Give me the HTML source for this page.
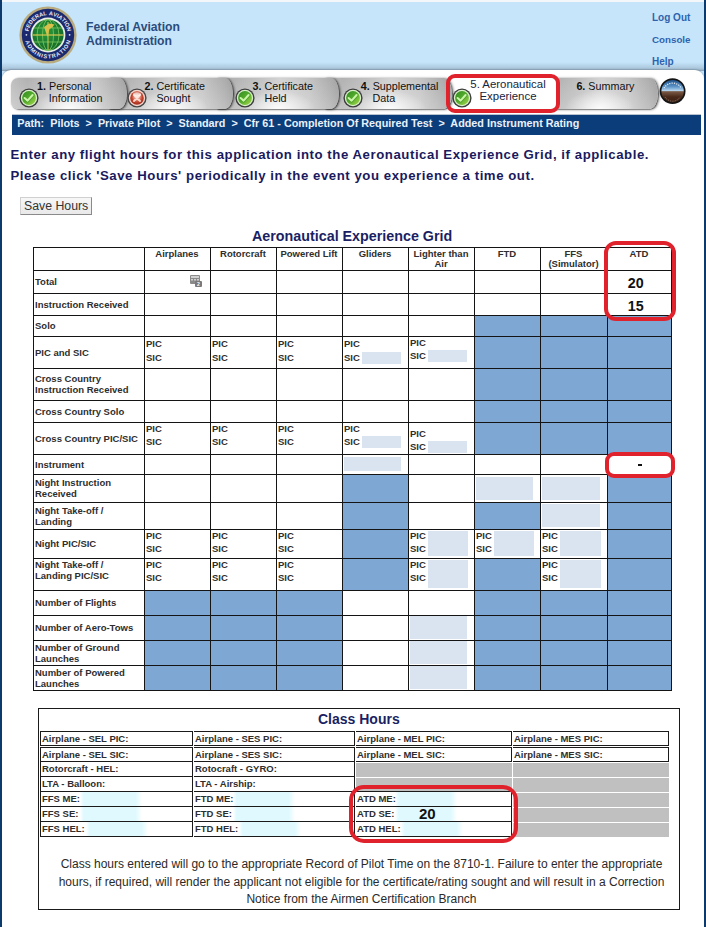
<!DOCTYPE html><html><head><meta charset="utf-8"><style>
html,body{margin:0;padding:0;}
body{width:706px;height:927px;overflow:hidden;position:relative;background:#fff;font-family:"Liberation Sans", sans-serif;}
.ab{position:absolute;}
.t{position:absolute;white-space:nowrap;}
</style></head><body>
<div class="ab" style="left:0;top:0;width:706px;height:2px;background:#f4f7fa"></div>
<div class="ab" style="left:2px;top:2px;width:702px;height:90px;background:#c6e5fb"></div>
<div class="ab" style="left:2px;top:62px;width:702px;height:9px;background:linear-gradient(rgba(150,175,195,0), rgba(150,175,195,.55) 70%, rgba(130,150,165,.85))"></div>
<div class="ab" style="left:2px;top:70px;width:702px;height:857px;background:#fff;border-radius:9px 9px 0 0;box-shadow:0 -1px 1.5px rgba(90,110,130,.35)"></div>
<div class="ab" style="left:0;top:0;width:2px;height:927px;background:#0d3a6c;z-index:50"></div>
<div class="ab" style="left:704px;top:0;width:2px;height:927px;background:#0d3a6c;z-index:50"></div>
<div class="t" style="left:86px;top:20.2px;font-size:12.2px;font-weight:bold;color:#2c4c7c;line-height:14px">Federal Aviation<br>Administration</div>
<div class="t" style="left:652px;top:12.2px;font-size:10px;font-weight:bold;color:#2f62ad;line-height:12px">Log Out</div>
<div class="t" style="left:652px;top:34.2px;font-size:9.75px;font-weight:bold;color:#2f62ad;line-height:12px">Console</div>
<div class="t" style="left:652px;top:56.4px;font-size:10px;font-weight:bold;color:#2f62ad;line-height:12px">Help</div>
<svg class="ab" style="left:19px;top:6px" width="58" height="58" viewBox="0 0 58 58">
<defs><radialGradient id="glb" cx="45%" cy="40%" r="60%"><stop offset="0" stop-color="#2a9a3a"/><stop offset="1" stop-color="#146a2a"/></radialGradient></defs>
<circle cx="29" cy="29" r="28.6" fill="#b9ab7e"/>
<circle cx="29" cy="29" r="26.2" fill="#1b2a6e"/>
<circle cx="29" cy="29" r="17.4" fill="#e9eee4"/>
<circle cx="29" cy="29" r="15.6" fill="url(#glb)"/>
<g stroke="#7cc860" stroke-width="0.9" fill="none" opacity=".9">
<ellipse cx="29" cy="29" rx="5.5" ry="15.4"/><ellipse cx="29" cy="29" rx="11" ry="15.4"/>
<line x1="15" y1="22" x2="43" y2="22"/><line x1="15" y1="36" x2="43" y2="36"/>
</g>
<line x1="13.6" y1="29" x2="44.4" y2="29" stroke="#d8c850" stroke-width="1.2"/>
<line x1="29" y1="16" x2="29" y2="44" stroke="#d8c850" stroke-width="1"/>
<path d="M28.5 31 L25 21 L30 17.5 L35.5 18.5 L33 21.5 L30.5 23 Z" fill="#d9c04a"/>
<g font-size="5.6" font-weight="bold" fill="#e8eaf4" font-family="Liberation Sans"><text transform="translate(9.87 23.89) rotate(284.9)" text-anchor="middle">F</text><text transform="translate(11.11 20.51) rotate(295.4)" text-anchor="middle">E</text><text transform="translate(13.14 17.15) rotate(306.8)" text-anchor="middle">D</text><text transform="translate(15.78 14.26) rotate(318.1)" text-anchor="middle">E</text><text transform="translate(18.95 11.94) rotate(329.5)" text-anchor="middle">R</text><text transform="translate(22.65 10.25) rotate(341.3)" text-anchor="middle">A</text><text transform="translate(26.31 9.38) rotate(352.2)" text-anchor="middle">L</text><text transform="translate(31.65 9.38) rotate(367.7)" text-anchor="middle">A</text><text transform="translate(35.47 10.29) rotate(379.1)" text-anchor="middle">V</text><text transform="translate(37.93 11.33) rotate(386.8)" text-anchor="middle">I</text><text transform="translate(40.36 12.79) rotate(395.0)" text-anchor="middle">A</text><text transform="translate(43.23 15.23) rotate(405.9)" text-anchor="middle">T</text><text transform="translate(44.86 17.15) rotate(413.2)" text-anchor="middle">I</text><text transform="translate(46.46 19.67) rotate(421.9)" text-anchor="middle">O</text><text transform="translate(48.05 23.59) rotate(434.1)" text-anchor="middle">N</text><text transform="translate(7.00 36.98) rotate(70.0)" text-anchor="middle">A</text><text transform="translate(9.21 41.49) rotate(57.7)" text-anchor="middle">D</text><text transform="translate(12.54 45.64) rotate(44.7)" text-anchor="middle">M</text><text transform="translate(15.69 48.24) rotate(34.7)" text-anchor="middle">I</text><text transform="translate(18.96 50.13) rotate(25.4)" text-anchor="middle">N</text><text transform="translate(22.48 51.47) rotate(16.2)" text-anchor="middle">I</text><text transform="translate(26.03 52.21) rotate(7.3)" text-anchor="middle">S</text><text transform="translate(30.58 52.35) rotate(-3.9)" text-anchor="middle">T</text><text transform="translate(35.22 51.56) rotate(-15.4)" text-anchor="middle">R</text><text transform="translate(39.88 49.72) rotate(-27.7)" text-anchor="middle">A</text><text transform="translate(43.80 47.12) rotate(-39.2)" text-anchor="middle">T</text><text transform="translate(46.32 44.74) rotate(-47.7)" text-anchor="middle">I</text><text transform="translate(48.71 41.62) rotate(-57.4)" text-anchor="middle">O</text><text transform="translate(51.00 36.98) rotate(-70.0)" text-anchor="middle">N</text></g>
<circle cx="7.4" cy="28.8" r="0.9" fill="#dfe4f0"/><circle cx="50.6" cy="28.8" r="0.9" fill="#dfe4f0"/>
</svg>
<div class="ab" style="left:11px;top:78px;width:115.5px;height:30.5px;background:radial-gradient(ellipse 30% 60% at 50% 100%, rgba(255,255,255,.9), rgba(255,255,255,0)),linear-gradient(to bottom, rgba(0,0,0,.05), rgba(255,255,255,.12)),linear-gradient(to right, #c9c9c9 0%, #bcbcbc 14%, #cccccc 35%, #dedede 52%, #cfcfcf 75%, #b6b6b6 93%, #a9a9a9 100%);border-radius:7px 8px 8px 7px / 7px 15px 15px 7px;box-shadow:1.5px 0.5px 2.5px rgba(0,0,0,.55), 0.5px 0.5px 0.8px rgba(0,0,0,.5);z-index:20"></div>
<div class="ab" style="left:109px;top:78px;width:123.7px;height:30.5px;background:radial-gradient(ellipse 30% 60% at 50% 100%, rgba(255,255,255,.9), rgba(255,255,255,0)),linear-gradient(to bottom, rgba(0,0,0,.05), rgba(255,255,255,.12)),linear-gradient(to right, #c9c9c9 0%, #bcbcbc 14%, #cccccc 35%, #dedede 52%, #cfcfcf 75%, #b6b6b6 93%, #a9a9a9 100%);border-radius:0 8px 8px 0 / 0 15px 15px 0;box-shadow:1.5px 0.5px 2.5px rgba(0,0,0,.55), 0.5px 0.5px 0.8px rgba(0,0,0,.5);z-index:19"></div>
<div class="ab" style="left:217px;top:78px;width:121.9px;height:30.5px;background:radial-gradient(ellipse 30% 60% at 50% 100%, rgba(255,255,255,.9), rgba(255,255,255,0)),linear-gradient(to bottom, rgba(0,0,0,.05), rgba(255,255,255,.12)),linear-gradient(to right, #c9c9c9 0%, #bcbcbc 14%, #cccccc 35%, #dedede 52%, #cfcfcf 75%, #b6b6b6 93%, #a9a9a9 100%);border-radius:0 8px 8px 0 / 0 15px 15px 0;box-shadow:1.5px 0.5px 2.5px rgba(0,0,0,.55), 0.5px 0.5px 0.8px rgba(0,0,0,.5);z-index:18"></div>
<div class="ab" style="left:325px;top:78px;width:127.0px;height:30.5px;background:radial-gradient(ellipse 30% 60% at 50% 100%, rgba(255,255,255,.9), rgba(255,255,255,0)),linear-gradient(to bottom, rgba(0,0,0,.05), rgba(255,255,255,.12)),linear-gradient(to right, #c9c9c9 0%, #bcbcbc 14%, #cccccc 35%, #dedede 52%, #cfcfcf 75%, #b6b6b6 93%, #a9a9a9 100%);border-radius:0 8px 8px 0 / 0 15px 15px 0;box-shadow:1.5px 0.5px 2.5px rgba(0,0,0,.55), 0.5px 0.5px 0.8px rgba(0,0,0,.5);z-index:17"></div>
<div class="ab" style="left:541px;top:78px;width:116.5px;height:30.5px;background:radial-gradient(ellipse 30% 60% at 50% 100%, rgba(255,255,255,.9), rgba(255,255,255,0)),linear-gradient(to bottom, rgba(0,0,0,.05), rgba(255,255,255,.12)),linear-gradient(to right, #c9c9c9 0%, #bcbcbc 14%, #cccccc 35%, #dedede 52%, #cfcfcf 75%, #b6b6b6 93%, #a9a9a9 100%);border-radius:0 8px 8px 0 / 0 15px 15px 0;box-shadow:1.5px 0.5px 2.5px rgba(0,0,0,.55), 0.5px 0.5px 0.8px rgba(0,0,0,.5);z-index:15"></div>
<div class="ab" style="left:446px;top:76px;width:112px;height:34px;background:#fff;z-index:16"></div>
<svg class="ab" style="left:18.3px;top:87.1px;z-index:30" width="22" height="22" viewBox="0 0 22 22"><defs><linearGradient id="gg0" x1="0" y1="0" x2="1" y2="1"><stop offset="0" stop-color="#2f8a1e"/><stop offset=".5" stop-color="#56ae2e"/><stop offset="1" stop-color="#a6d64a"/></linearGradient></defs><circle cx="11" cy="11" r="9.6" fill="#3c3c3c"/><circle cx="11" cy="11" r="8.2" fill="#d8f0c8"/><circle cx="11" cy="11" r="6.9" fill="url(#gg0)"/><path d="M6.6 11.4 L9.6 14 L14.6 8.4" stroke="#3d8a25" stroke-width="3" fill="none" stroke-linecap="round" stroke-linejoin="round" opacity=".6"/><path d="M6.6 11 L9.6 13.6 L14.6 8" stroke="#c9f5a6" stroke-width="2.1" fill="none" stroke-linecap="round" stroke-linejoin="round"/></svg>
<svg class="ab" style="left:126.1px;top:87.1px;z-index:30" width="22" height="22" viewBox="0 0 22 22"><defs><radialGradient id="rg" cx="50%" cy="40%" r="55%"><stop offset="0" stop-color="#fff0e0"/><stop offset=".35" stop-color="#e8a090"/><stop offset=".7" stop-color="#c4452e"/><stop offset="1" stop-color="#a83020"/></radialGradient></defs><circle cx="11" cy="11" r="9.6" fill="#444"/><circle cx="11" cy="11" r="8.2" fill="#f4d4cc"/><circle cx="11" cy="11" r="6.8" fill="url(#rg)"/><path d="M8 8 L14 14 M14 8 L8 14" stroke="#ffe8e0" stroke-width="2" stroke-linecap="round" opacity=".85"/><ellipse cx="11" cy="7.3" rx="4" ry="2" fill="#fff" opacity=".55"/></svg>
<svg class="ab" style="left:233.6px;top:87.1px;z-index:30" width="22" height="22" viewBox="0 0 22 22"><defs><linearGradient id="gg2" x1="0" y1="0" x2="1" y2="1"><stop offset="0" stop-color="#2f8a1e"/><stop offset=".5" stop-color="#56ae2e"/><stop offset="1" stop-color="#a6d64a"/></linearGradient></defs><circle cx="11" cy="11" r="9.6" fill="#3c3c3c"/><circle cx="11" cy="11" r="8.2" fill="#d8f0c8"/><circle cx="11" cy="11" r="6.9" fill="url(#gg2)"/><path d="M6.6 11.4 L9.6 14 L14.6 8.4" stroke="#3d8a25" stroke-width="3" fill="none" stroke-linecap="round" stroke-linejoin="round" opacity=".6"/><path d="M6.6 11 L9.6 13.6 L14.6 8" stroke="#c9f5a6" stroke-width="2.1" fill="none" stroke-linecap="round" stroke-linejoin="round"/></svg>
<svg class="ab" style="left:342.2px;top:87.1px;z-index:30" width="22" height="22" viewBox="0 0 22 22"><defs><linearGradient id="gg3" x1="0" y1="0" x2="1" y2="1"><stop offset="0" stop-color="#2f8a1e"/><stop offset=".5" stop-color="#56ae2e"/><stop offset="1" stop-color="#a6d64a"/></linearGradient></defs><circle cx="11" cy="11" r="9.6" fill="#3c3c3c"/><circle cx="11" cy="11" r="8.2" fill="#d8f0c8"/><circle cx="11" cy="11" r="6.9" fill="url(#gg3)"/><path d="M6.6 11.4 L9.6 14 L14.6 8.4" stroke="#3d8a25" stroke-width="3" fill="none" stroke-linecap="round" stroke-linejoin="round" opacity=".6"/><path d="M6.6 11 L9.6 13.6 L14.6 8" stroke="#c9f5a6" stroke-width="2.1" fill="none" stroke-linecap="round" stroke-linejoin="round"/></svg>
<svg class="ab" style="left:450.7px;top:87.1px;z-index:30" width="22" height="22" viewBox="0 0 22 22"><defs><linearGradient id="gg4" x1="0" y1="0" x2="1" y2="1"><stop offset="0" stop-color="#2f8a1e"/><stop offset=".5" stop-color="#56ae2e"/><stop offset="1" stop-color="#a6d64a"/></linearGradient></defs><circle cx="11" cy="11" r="9.6" fill="#3c3c3c"/><circle cx="11" cy="11" r="8.2" fill="#d8f0c8"/><circle cx="11" cy="11" r="6.9" fill="url(#gg4)"/><path d="M6.6 11.4 L9.6 14 L14.6 8.4" stroke="#3d8a25" stroke-width="3" fill="none" stroke-linecap="round" stroke-linejoin="round" opacity=".6"/><path d="M6.6 11 L9.6 13.6 L14.6 8" stroke="#c9f5a6" stroke-width="2.1" fill="none" stroke-linecap="round" stroke-linejoin="round"/></svg>
<div class="t" style="left:37.0px;top:79.55px;font-size:10.75px;line-height:12.3px;color:#111;z-index:31"><b>1.</b> Personal<br><span style="padding-left:11.8px">Information</span></div>
<div class="t" style="left:144.6px;top:79.55px;font-size:10.75px;line-height:12.3px;color:#111;z-index:31"><b>2.</b> Certificate<br><span style="padding-left:11.8px">Sought</span></div>
<div class="t" style="left:252.6px;top:79.55px;font-size:10.75px;line-height:12.3px;color:#111;z-index:31"><b>3.</b> Certificate<br><span style="padding-left:11.8px">Held</span></div>
<div class="t" style="left:360.7px;top:79.55px;font-size:10.75px;line-height:12.3px;color:#111;z-index:31"><b>4.</b> Supplemental<br><span style="padding-left:11.8px">Data</span></div>
<div class="t" style="left:448px;top:79.4px;width:120px;text-align:center;font-size:11.4px;line-height:11.7px;color:#15253d;z-index:31">5. Aeronautical<br>Experience</div>
<div class="t" style="left:576.4px;top:79.55px;font-size:10.75px;line-height:12.3px;color:#111;z-index:31"><b>6.</b> Summary</div>
<svg class="ab" style="left:659px;top:77px;z-index:31" width="28" height="28" viewBox="0 0 28 28">
<defs><linearGradient id="sky" x1="0" y1="0" x2="0" y2="1"><stop offset="0" stop-color="#1d4f8a"/><stop offset=".3" stop-color="#5d95c8"/><stop offset=".48" stop-color="#b8d8f0"/><stop offset=".52" stop-color="#7a5a46"/><stop offset=".75" stop-color="#4a2a1a"/><stop offset="1" stop-color="#3a2014"/></linearGradient></defs>
<circle cx="13.6" cy="14.2" r="12.9" fill="#141414"/><circle cx="13.6" cy="14.2" r="11.2" fill="url(#sky)"/>
<path d="M5 11 A10 10 0 0 1 22.2 11" stroke="#e8eef4" stroke-width="1.3" fill="none" stroke-dasharray="1.2 1.1"/>
<path d="M6 20 A9 9 0 0 0 21.2 20" stroke="#c8b8a8" stroke-width="1" fill="none" stroke-dasharray="1 1.2" opacity=".6"/>
</svg>

<div class="ab" style="left:446px;top:74px;width:106px;height:31px;border:4px solid #e0222c;border-radius:9px;z-index:40"></div>
<div class="ab" style="left:12px;top:114px;width:689px;height:1px;background:#b9c3cf"></div>
<div class="ab" style="left:12px;top:115px;width:689px;height:20px;background:#0a3d7a"></div>
<div class="t" style="left:17.2px;top:117.2px;font-size:10.8px;font-weight:bold;line-height:12px;color:#e9f1fb">Path:&nbsp; Pilots &nbsp;&gt;&nbsp; Private Pilot &nbsp;&gt;&nbsp; Standard &nbsp;&gt;&nbsp; Cfr 61 - Completion Of Required Test &nbsp;&gt;&nbsp; Added Instrument Rating</div>
<div class="t" style="left:10.5px;top:144px;font-size:13.2px;letter-spacing:0.56px;font-weight:bold;line-height:21px;color:#1a1a5e">Enter any flight hours for this application into the Aeronautical Experience Grid, if applicable.<br>Please click &#39;Save Hours&#39; periodically in the event you experience a time out.</div>
<div class="ab" style="left:20px;top:197px;width:70px;height:16px;border:1px solid;border-color:#d0d0d0 #8a8a8a #8a8a8a #d0d0d0;background:linear-gradient(#f7f7f7,#e9e9e9)"></div>
<div class="t" style="left:24px;top:199px;font-size:12.3px;line-height:14px;color:#333">Save Hours</div>
<div class="t" style="left:252px;top:228px;font-size:14.3px;font-weight:bold;line-height:16px;color:#1b1f63">Aeronautical Experience Grid</div>
<div class="ab" style="left:474px;top:315px;width:66px;height:21px;background:#7ea7d3"></div>
<div class="ab" style="left:540px;top:315px;width:67px;height:21px;background:#7ea7d3"></div>
<div class="ab" style="left:607px;top:315px;width:64px;height:21px;background:#7ea7d3"></div>
<div class="ab" style="left:362px;top:352px;width:39px;height:12px;background:#dae4f0"></div>
<div class="ab" style="left:428px;top:350px;width:39px;height:12px;background:#dae4f0"></div>
<div class="ab" style="left:474px;top:336px;width:66px;height:32px;background:#7ea7d3"></div>
<div class="ab" style="left:540px;top:336px;width:67px;height:32px;background:#7ea7d3"></div>
<div class="ab" style="left:607px;top:336px;width:64px;height:32px;background:#7ea7d3"></div>
<div class="ab" style="left:474px;top:368px;width:66px;height:32px;background:#7ea7d3"></div>
<div class="ab" style="left:540px;top:368px;width:67px;height:32px;background:#7ea7d3"></div>
<div class="ab" style="left:607px;top:368px;width:64px;height:32px;background:#7ea7d3"></div>
<div class="ab" style="left:474px;top:400px;width:66px;height:22px;background:#7ea7d3"></div>
<div class="ab" style="left:540px;top:400px;width:67px;height:22px;background:#7ea7d3"></div>
<div class="ab" style="left:607px;top:400px;width:64px;height:22px;background:#7ea7d3"></div>
<div class="ab" style="left:362px;top:436px;width:39px;height:12px;background:#dae4f0"></div>
<div class="ab" style="left:428px;top:441px;width:39px;height:12px;background:#dae4f0"></div>
<div class="ab" style="left:474px;top:422px;width:66px;height:32px;background:#7ea7d3"></div>
<div class="ab" style="left:540px;top:422px;width:67px;height:32px;background:#7ea7d3"></div>
<div class="ab" style="left:607px;top:422px;width:64px;height:32px;background:#7ea7d3"></div>
<div class="ab" style="left:344px;top:457px;width:57px;height:14px;background:#dae4f0"></div>
<div class="ab" style="left:342px;top:474px;width:66px;height:28px;background:#7ea7d3"></div>
<div class="ab" style="left:476px;top:477px;width:57px;height:23px;background:#dae4f0"></div>
<div class="ab" style="left:542px;top:477px;width:58px;height:23px;background:#dae4f0"></div>
<div class="ab" style="left:607px;top:474px;width:64px;height:28px;background:#7ea7d3"></div>
<div class="ab" style="left:342px;top:502px;width:66px;height:27px;background:#7ea7d3"></div>
<div class="ab" style="left:474px;top:502px;width:66px;height:27px;background:#7ea7d3"></div>
<div class="ab" style="left:542px;top:504px;width:58px;height:23px;background:#dae4f0"></div>
<div class="ab" style="left:607px;top:502px;width:64px;height:27px;background:#7ea7d3"></div>
<div class="ab" style="left:342px;top:529px;width:66px;height:29px;background:#7ea7d3"></div>
<div class="ab" style="left:428px;top:531px;width:40px;height:25px;background:#dae4f0"></div>
<div class="ab" style="left:494px;top:531px;width:40px;height:25px;background:#dae4f0"></div>
<div class="ab" style="left:560px;top:531px;width:41px;height:25px;background:#dae4f0"></div>
<div class="ab" style="left:607px;top:529px;width:64px;height:29px;background:#7ea7d3"></div>
<div class="ab" style="left:342px;top:558px;width:66px;height:32px;background:#7ea7d3"></div>
<div class="ab" style="left:428px;top:560px;width:40px;height:28px;background:#dae4f0"></div>
<div class="ab" style="left:474px;top:558px;width:66px;height:32px;background:#7ea7d3"></div>
<div class="ab" style="left:560px;top:560px;width:41px;height:28px;background:#dae4f0"></div>
<div class="ab" style="left:607px;top:558px;width:64px;height:32px;background:#7ea7d3"></div>
<div class="ab" style="left:144px;top:590px;width:66px;height:25px;background:#7ea7d3"></div>
<div class="ab" style="left:210px;top:590px;width:66px;height:25px;background:#7ea7d3"></div>
<div class="ab" style="left:276px;top:590px;width:66px;height:25px;background:#7ea7d3"></div>
<div class="ab" style="left:474px;top:590px;width:66px;height:25px;background:#7ea7d3"></div>
<div class="ab" style="left:540px;top:590px;width:67px;height:25px;background:#7ea7d3"></div>
<div class="ab" style="left:607px;top:590px;width:64px;height:25px;background:#7ea7d3"></div>
<div class="ab" style="left:144px;top:615px;width:66px;height:25px;background:#7ea7d3"></div>
<div class="ab" style="left:210px;top:615px;width:66px;height:25px;background:#7ea7d3"></div>
<div class="ab" style="left:276px;top:615px;width:66px;height:25px;background:#7ea7d3"></div>
<div class="ab" style="left:410px;top:616px;width:57px;height:23px;background:#dae4f0"></div>
<div class="ab" style="left:474px;top:615px;width:66px;height:25px;background:#7ea7d3"></div>
<div class="ab" style="left:540px;top:615px;width:67px;height:25px;background:#7ea7d3"></div>
<div class="ab" style="left:607px;top:615px;width:64px;height:25px;background:#7ea7d3"></div>
<div class="ab" style="left:144px;top:640px;width:66px;height:25px;background:#7ea7d3"></div>
<div class="ab" style="left:210px;top:640px;width:66px;height:25px;background:#7ea7d3"></div>
<div class="ab" style="left:276px;top:640px;width:66px;height:25px;background:#7ea7d3"></div>
<div class="ab" style="left:410px;top:641px;width:57px;height:23px;background:#dae4f0"></div>
<div class="ab" style="left:474px;top:640px;width:66px;height:25px;background:#7ea7d3"></div>
<div class="ab" style="left:540px;top:640px;width:67px;height:25px;background:#7ea7d3"></div>
<div class="ab" style="left:607px;top:640px;width:64px;height:25px;background:#7ea7d3"></div>
<div class="ab" style="left:144px;top:665px;width:66px;height:25px;background:#7ea7d3"></div>
<div class="ab" style="left:210px;top:665px;width:66px;height:25px;background:#7ea7d3"></div>
<div class="ab" style="left:276px;top:665px;width:66px;height:25px;background:#7ea7d3"></div>
<div class="ab" style="left:410px;top:666px;width:57px;height:23px;background:#dae4f0"></div>
<div class="ab" style="left:474px;top:665px;width:66px;height:25px;background:#7ea7d3"></div>
<div class="ab" style="left:540px;top:665px;width:67px;height:25px;background:#7ea7d3"></div>
<div class="ab" style="left:607px;top:665px;width:64px;height:25px;background:#7ea7d3"></div>
<div class="ab" style="left:33px;top:247px;width:1px;height:444px;background:#141414"></div>
<div class="ab" style="left:144px;top:247px;width:1px;height:444px;background:#141414"></div>
<div class="ab" style="left:210px;top:247px;width:1px;height:444px;background:#141414"></div>
<div class="ab" style="left:276px;top:247px;width:1px;height:444px;background:#141414"></div>
<div class="ab" style="left:342px;top:247px;width:1px;height:444px;background:#141414"></div>
<div class="ab" style="left:408px;top:247px;width:1px;height:444px;background:#141414"></div>
<div class="ab" style="left:474px;top:247px;width:1px;height:444px;background:#141414"></div>
<div class="ab" style="left:540px;top:247px;width:1px;height:444px;background:#141414"></div>
<div class="ab" style="left:607px;top:247px;width:1px;height:444px;background:#141414"></div>
<div class="ab" style="left:671px;top:247px;width:1px;height:444px;background:#141414"></div>
<div class="ab" style="left:33px;top:247px;width:639px;height:1px;background:#141414"></div>
<div class="ab" style="left:33px;top:270px;width:639px;height:1px;background:#141414"></div>
<div class="ab" style="left:33px;top:293px;width:639px;height:1px;background:#141414"></div>
<div class="ab" style="left:33px;top:315px;width:639px;height:1px;background:#141414"></div>
<div class="ab" style="left:33px;top:336px;width:639px;height:1px;background:#141414"></div>
<div class="ab" style="left:33px;top:368px;width:639px;height:1px;background:#141414"></div>
<div class="ab" style="left:33px;top:400px;width:639px;height:1px;background:#141414"></div>
<div class="ab" style="left:33px;top:422px;width:639px;height:1px;background:#141414"></div>
<div class="ab" style="left:33px;top:454px;width:639px;height:1px;background:#141414"></div>
<div class="ab" style="left:33px;top:474px;width:639px;height:1px;background:#141414"></div>
<div class="ab" style="left:33px;top:502px;width:639px;height:1px;background:#141414"></div>
<div class="ab" style="left:33px;top:529px;width:639px;height:1px;background:#141414"></div>
<div class="ab" style="left:33px;top:558px;width:639px;height:1px;background:#141414"></div>
<div class="ab" style="left:33px;top:590px;width:639px;height:1px;background:#141414"></div>
<div class="ab" style="left:33px;top:615px;width:639px;height:1px;background:#141414"></div>
<div class="ab" style="left:33px;top:640px;width:639px;height:1px;background:#141414"></div>
<div class="ab" style="left:33px;top:665px;width:639px;height:1px;background:#141414"></div>
<div class="ab" style="left:33px;top:690px;width:639px;height:1px;background:#141414"></div>
<div class="t" style="left:144px;top:248.5px;width:66px;text-align:center;font-size:9.5px;font-weight:bold;line-height:11px;color:#2e2e2e;line-height:10.6px">Airplanes</div>
<div class="t" style="left:210px;top:248.5px;width:66px;text-align:center;font-size:9.5px;font-weight:bold;line-height:11px;color:#2e2e2e;line-height:10.6px">Rotorcraft</div>
<div class="t" style="left:276px;top:248.5px;width:66px;text-align:center;font-size:9.5px;font-weight:bold;line-height:11px;color:#2e2e2e;line-height:10.6px">Powered Lift</div>
<div class="t" style="left:342px;top:248.5px;width:66px;text-align:center;font-size:9.5px;font-weight:bold;line-height:11px;color:#2e2e2e;line-height:10.6px">Gliders</div>
<div class="t" style="left:408px;top:248.5px;width:66px;text-align:center;font-size:9.5px;font-weight:bold;line-height:11px;color:#2e2e2e;line-height:10.6px">Lighter than<br>Air</div>
<div class="t" style="left:474px;top:248.5px;width:66px;text-align:center;font-size:9.5px;font-weight:bold;line-height:11px;color:#2e2e2e;line-height:10.6px">FTD</div>
<div class="t" style="left:540px;top:248.5px;width:67px;text-align:center;font-size:9.5px;font-weight:bold;line-height:11px;color:#2e2e2e;line-height:10.6px">FFS<br>(Simulator)</div>
<div class="t" style="left:607px;top:248.5px;width:64px;text-align:center;font-size:9.5px;font-weight:bold;line-height:11px;color:#2e2e2e;line-height:10.6px">ATD</div>
<div class="ab" style="left:35px;top:270px;width:108px;height:23px;display:flex;align-items:center;font-size:9.5px;font-weight:bold;line-height:11px;color:#2e2e2e"><div>Total</div></div>
<div class="ab" style="left:35px;top:293px;width:108px;height:22px;display:flex;align-items:center;font-size:9.5px;font-weight:bold;line-height:11px;color:#2e2e2e"><div>Instruction Received</div></div>
<div class="ab" style="left:35px;top:315px;width:108px;height:21px;display:flex;align-items:center;font-size:9.5px;font-weight:bold;line-height:11px;color:#2e2e2e"><div>Solo</div></div>
<div class="ab" style="left:35px;top:336px;width:108px;height:32px;display:flex;align-items:center;font-size:9.5px;font-weight:bold;line-height:11px;color:#2e2e2e"><div>PIC and SIC</div></div>
<div class="ab" style="left:35px;top:368px;width:108px;height:32px;display:flex;align-items:center;font-size:9.5px;font-weight:bold;line-height:11px;color:#2e2e2e"><div>Cross Country<br>Instruction Received</div></div>
<div class="ab" style="left:35px;top:400px;width:108px;height:22px;display:flex;align-items:center;font-size:9.5px;font-weight:bold;line-height:11px;color:#2e2e2e"><div>Cross Country Solo</div></div>
<div class="ab" style="left:35px;top:422px;width:108px;height:32px;display:flex;align-items:center;font-size:9.5px;font-weight:bold;line-height:11px;color:#2e2e2e"><div>Cross Country PIC/SIC</div></div>
<div class="ab" style="left:35px;top:454px;width:108px;height:20px;display:flex;align-items:center;font-size:9.5px;font-weight:bold;line-height:11px;color:#2e2e2e"><div>Instrument</div></div>
<div class="ab" style="left:35px;top:474px;width:108px;height:28px;display:flex;align-items:center;font-size:9.5px;font-weight:bold;line-height:11px;color:#2e2e2e"><div>Night Instruction<br>Received</div></div>
<div class="ab" style="left:35px;top:502px;width:108px;height:27px;display:flex;align-items:center;font-size:9.5px;font-weight:bold;line-height:11px;color:#2e2e2e"><div>Night Take-off /<br>Landing</div></div>
<div class="ab" style="left:35px;top:529px;width:108px;height:29px;display:flex;align-items:center;font-size:9.5px;font-weight:bold;line-height:11px;color:#2e2e2e"><div>Night PIC/SIC</div></div>
<div class="ab" style="left:35px;top:554px;width:108px;height:32px;display:flex;align-items:center;font-size:9.5px;font-weight:bold;line-height:11px;color:#2e2e2e"><div>Night Take-off /<br>Landing PIC/SIC</div></div>
<div class="ab" style="left:35px;top:590px;width:108px;height:25px;display:flex;align-items:center;font-size:9.5px;font-weight:bold;line-height:11px;color:#2e2e2e"><div>Number of Flights</div></div>
<div class="ab" style="left:35px;top:615px;width:108px;height:25px;display:flex;align-items:center;font-size:9.5px;font-weight:bold;line-height:11px;color:#2e2e2e"><div>Number of Aero-Tows</div></div>
<div class="ab" style="left:35px;top:640px;width:108px;height:25px;display:flex;align-items:center;font-size:9.5px;font-weight:bold;line-height:11px;color:#2e2e2e"><div>Number of Ground<br>Launches</div></div>
<div class="ab" style="left:35px;top:665px;width:108px;height:25px;display:flex;align-items:center;font-size:9.5px;font-weight:bold;line-height:11px;color:#2e2e2e"><div>Number of Powered<br>Launches</div></div>
<svg class="ab" style="left:190px;top:275px" width="12" height="12" viewBox="0 0 12 12"><rect x="0" y="0" width="10" height="9" rx="1" fill="#8a8a8a"/><rect x="1" y="1" width="8" height="2" fill="#d0d0d0"/><rect x="1" y="4" width="2" height="1.5" fill="#d0d0d0"/><rect x="4" y="4" width="2" height="1.5" fill="#d0d0d0"/><rect x="7" y="4" width="2" height="1.5" fill="#d0d0d0"/><rect x="5" y="6" width="7" height="6" rx="1" fill="#7a7a7a"/><text x="8.5" y="11" font-size="5" font-weight="bold" fill="#fff" text-anchor="middle" font-family="Liberation Sans">2</text></svg>
<div class="t" style="left:603.8px;top:273.6px;width:64px;text-align:center;font-size:14.3px;font-weight:bold;line-height:18px;color:#111">20</div>
<div class="t" style="left:603.8px;top:296.6px;width:64px;text-align:center;font-size:14.3px;font-weight:bold;line-height:18px;color:#111">15</div>
<div class="t" style="left:146px;top:337.40000000000003px;font-size:9.5px;font-weight:bold;line-height:11px;color:#2e2e2e;line-height:13.2px">PIC<br>SIC</div>
<div class="t" style="left:212px;top:337.40000000000003px;font-size:9.5px;font-weight:bold;line-height:11px;color:#2e2e2e;line-height:13.2px">PIC<br>SIC</div>
<div class="t" style="left:278px;top:337.40000000000003px;font-size:9.5px;font-weight:bold;line-height:11px;color:#2e2e2e;line-height:13.2px">PIC<br>SIC</div>
<div class="t" style="left:344px;top:337.40000000000003px;font-size:9.5px;font-weight:bold;line-height:11px;color:#2e2e2e;line-height:13.2px">PIC<br>SIC</div>
<div class="t" style="left:410px;top:335.6px;font-size:9.5px;font-weight:bold;line-height:11px;color:#2e2e2e;line-height:13.2px">PIC<br>SIC</div>
<div class="t" style="left:146px;top:421.8px;font-size:9.5px;font-weight:bold;line-height:11px;color:#2e2e2e;line-height:13.2px">PIC<br>SIC</div>
<div class="t" style="left:212px;top:421.8px;font-size:9.5px;font-weight:bold;line-height:11px;color:#2e2e2e;line-height:13.2px">PIC<br>SIC</div>
<div class="t" style="left:278px;top:421.8px;font-size:9.5px;font-weight:bold;line-height:11px;color:#2e2e2e;line-height:13.2px">PIC<br>SIC</div>
<div class="t" style="left:344px;top:421.8px;font-size:9.5px;font-weight:bold;line-height:11px;color:#2e2e2e;line-height:13.2px">PIC<br>SIC</div>
<div class="t" style="left:410px;top:426.70000000000005px;font-size:9.5px;font-weight:bold;line-height:11px;color:#2e2e2e;line-height:13.2px">PIC<br>SIC</div>
<div class="ab" style="left:638px;top:464px;width:4px;height:2px;background:#111;z-index:41"></div>
<div class="t" style="left:146px;top:528.8000000000001px;font-size:9.5px;font-weight:bold;line-height:11px;color:#2e2e2e;line-height:13.2px">PIC<br>SIC</div>
<div class="t" style="left:212px;top:528.8000000000001px;font-size:9.5px;font-weight:bold;line-height:11px;color:#2e2e2e;line-height:13.2px">PIC<br>SIC</div>
<div class="t" style="left:278px;top:528.8000000000001px;font-size:9.5px;font-weight:bold;line-height:11px;color:#2e2e2e;line-height:13.2px">PIC<br>SIC</div>
<div class="t" style="left:410px;top:528.8000000000001px;font-size:9.5px;font-weight:bold;line-height:11px;color:#2e2e2e;line-height:13.2px">PIC<br>SIC</div>
<div class="t" style="left:476px;top:528.8000000000001px;font-size:9.5px;font-weight:bold;line-height:11px;color:#2e2e2e;line-height:13.2px">PIC<br>SIC</div>
<div class="t" style="left:542px;top:528.8000000000001px;font-size:9.5px;font-weight:bold;line-height:11px;color:#2e2e2e;line-height:13.2px">PIC<br>SIC</div>
<div class="t" style="left:146px;top:557.8000000000001px;font-size:9.5px;font-weight:bold;line-height:11px;color:#2e2e2e;line-height:13.2px">PIC<br>SIC</div>
<div class="t" style="left:212px;top:557.8000000000001px;font-size:9.5px;font-weight:bold;line-height:11px;color:#2e2e2e;line-height:13.2px">PIC<br>SIC</div>
<div class="t" style="left:278px;top:557.8000000000001px;font-size:9.5px;font-weight:bold;line-height:11px;color:#2e2e2e;line-height:13.2px">PIC<br>SIC</div>
<div class="t" style="left:410px;top:557.8000000000001px;font-size:9.5px;font-weight:bold;line-height:11px;color:#2e2e2e;line-height:13.2px">PIC<br>SIC</div>
<div class="t" style="left:542px;top:557.8000000000001px;font-size:9.5px;font-weight:bold;line-height:11px;color:#2e2e2e;line-height:13.2px">PIC<br>SIC</div>
<div class="ab" style="left:603.5px;top:241px;width:64px;height:72px;border:4.5px solid #e0222c;border-radius:12px;z-index:40"></div>
<div class="ab" style="left:605px;top:452px;width:62px;height:17.5px;border:4.5px solid #e0222c;border-radius:9px;background:#fff;z-index:40"></div>
<div class="ab" style="left:38px;top:708px;width:640px;height:200px;border:1px solid #1a1a1a"></div>
<div class="t" style="left:318px;top:712px;font-size:14px;font-weight:bold;line-height:14px;color:#1b1f63">Class Hours</div>
<div class="t" style="left:42px;top:732.7px;font-size:9.5px;font-weight:bold;line-height:11px;color:#2e2e2e">Airplane - SEL PIC:</div>
<div class="t" style="left:195px;top:732.7px;font-size:9.5px;font-weight:bold;line-height:11px;color:#2e2e2e">Airplane - SES PIC:</div>
<div class="t" style="left:357px;top:732.7px;font-size:9.5px;font-weight:bold;line-height:11px;color:#2e2e2e">Airplane - MEL PIC:</div>
<div class="t" style="left:514px;top:732.7px;font-size:9.5px;font-weight:bold;line-height:11px;color:#2e2e2e">Airplane - MES PIC:</div>
<div class="t" style="left:42px;top:748.7px;font-size:9.5px;font-weight:bold;line-height:11px;color:#2e2e2e">Airplane - SEL SIC:</div>
<div class="t" style="left:195px;top:748.7px;font-size:9.5px;font-weight:bold;line-height:11px;color:#2e2e2e">Airplane - SES SIC:</div>
<div class="t" style="left:357px;top:748.7px;font-size:9.5px;font-weight:bold;line-height:11px;color:#2e2e2e">Airplane - MEL SIC:</div>
<div class="t" style="left:514px;top:748.7px;font-size:9.5px;font-weight:bold;line-height:11px;color:#2e2e2e">Airplane - MES SIC:</div>
<div class="t" style="left:42px;top:762.7px;font-size:9.5px;font-weight:bold;line-height:11px;color:#2e2e2e">Rotorcraft - HEL:</div>
<div class="t" style="left:195px;top:762.7px;font-size:9.5px;font-weight:bold;line-height:11px;color:#2e2e2e">Rotocraft - GYRO:</div>
<div class="ab" style="left:356px;top:763px;width:156px;height:14px;background:#c0c0c0"></div>
<div class="ab" style="left:513px;top:763px;width:156px;height:14px;background:#c0c0c0"></div>
<div class="t" style="left:42px;top:777.7px;font-size:9.5px;font-weight:bold;line-height:11px;color:#2e2e2e">LTA - Balloon:</div>
<div class="t" style="left:195px;top:777.7px;font-size:9.5px;font-weight:bold;line-height:11px;color:#2e2e2e">LTA - Airship:</div>
<div class="ab" style="left:356px;top:778px;width:156px;height:14px;background:#c0c0c0"></div>
<div class="ab" style="left:513px;top:778px;width:156px;height:14px;background:#c0c0c0"></div>
<div class="ab" style="left:80px;top:792px;width:62px;height:14px;background:linear-gradient(to right, rgba(224,250,255,0), #dff9ff 6%, #dff9ff 90%, rgba(224,250,255,0))"></div>
<div class="t" style="left:42px;top:792.7px;font-size:9.5px;font-weight:bold;line-height:11px;color:#2e2e2e">FFS ME:</div>
<div class="ab" style="left:233px;top:792px;width:62px;height:14px;background:linear-gradient(to right, rgba(224,250,255,0), #dff9ff 6%, #dff9ff 90%, rgba(224,250,255,0))"></div>
<div class="t" style="left:195px;top:792.7px;font-size:9.5px;font-weight:bold;line-height:11px;color:#2e2e2e">FTD ME:</div>
<div class="ab" style="left:395px;top:792px;width:62px;height:14px;background:linear-gradient(to right, rgba(224,250,255,0), #dff9ff 6%, #dff9ff 90%, rgba(224,250,255,0))"></div>
<div class="t" style="left:357px;top:792.7px;font-size:9.5px;font-weight:bold;line-height:11px;color:#2e2e2e">ATD ME:</div>
<div class="ab" style="left:513px;top:793px;width:156px;height:14px;background:#c0c0c0"></div>
<div class="ab" style="left:80px;top:807px;width:62px;height:14px;background:linear-gradient(to right, rgba(224,250,255,0), #dff9ff 6%, #dff9ff 90%, rgba(224,250,255,0))"></div>
<div class="t" style="left:42px;top:807.7px;font-size:9.5px;font-weight:bold;line-height:11px;color:#2e2e2e">FFS SE:</div>
<div class="ab" style="left:233px;top:807px;width:62px;height:14px;background:linear-gradient(to right, rgba(224,250,255,0), #dff9ff 6%, #dff9ff 90%, rgba(224,250,255,0))"></div>
<div class="t" style="left:195px;top:807.7px;font-size:9.5px;font-weight:bold;line-height:11px;color:#2e2e2e">FTD SE:</div>
<div class="ab" style="left:395px;top:807px;width:62px;height:14px;background:linear-gradient(to right, rgba(224,250,255,0), #dff9ff 6%, #dff9ff 90%, rgba(224,250,255,0))"></div>
<div class="t" style="left:357px;top:807.7px;font-size:9.5px;font-weight:bold;line-height:11px;color:#2e2e2e">ATD SE:</div>
<div class="ab" style="left:513px;top:808px;width:156px;height:14px;background:#c0c0c0"></div>
<div class="ab" style="left:86px;top:822px;width:62px;height:14px;background:linear-gradient(to right, rgba(224,250,255,0), #dff9ff 6%, #dff9ff 90%, rgba(224,250,255,0))"></div>
<div class="t" style="left:42px;top:822.7px;font-size:9.5px;font-weight:bold;line-height:11px;color:#2e2e2e">FFS HEL:</div>
<div class="ab" style="left:239px;top:822px;width:62px;height:14px;background:linear-gradient(to right, rgba(224,250,255,0), #dff9ff 6%, #dff9ff 90%, rgba(224,250,255,0))"></div>
<div class="t" style="left:195px;top:822.7px;font-size:9.5px;font-weight:bold;line-height:11px;color:#2e2e2e">FTD HEL:</div>
<div class="ab" style="left:401px;top:822px;width:62px;height:14px;background:linear-gradient(to right, rgba(224,250,255,0), #dff9ff 6%, #dff9ff 90%, rgba(224,250,255,0))"></div>
<div class="t" style="left:357px;top:822.7px;font-size:9.5px;font-weight:bold;line-height:11px;color:#2e2e2e">ATD HEL:</div>
<div class="ab" style="left:513px;top:823px;width:156px;height:14px;background:#c0c0c0"></div>
<div class="ab" style="left:40px;top:731px;width:153px;height:1px;background:#1a1a1a"></div>
<div class="ab" style="left:40px;top:745px;width:153px;height:1px;background:#1a1a1a"></div>
<div class="ab" style="left:40px;top:731px;width:1px;height:15px;background:#1a1a1a"></div>
<div class="ab" style="left:192px;top:731px;width:1px;height:15px;background:#1a1a1a"></div>
<div class="ab" style="left:194px;top:731px;width:161px;height:1px;background:#1a1a1a"></div>
<div class="ab" style="left:194px;top:745px;width:161px;height:1px;background:#1a1a1a"></div>
<div class="ab" style="left:354px;top:731px;width:1px;height:15px;background:#1a1a1a"></div>
<div class="ab" style="left:356px;top:731px;width:156px;height:1px;background:#1a1a1a"></div>
<div class="ab" style="left:356px;top:745px;width:156px;height:1px;background:#1a1a1a"></div>
<div class="ab" style="left:511px;top:731px;width:1px;height:15px;background:#1a1a1a"></div>
<div class="ab" style="left:513px;top:731px;width:156px;height:1px;background:#1a1a1a"></div>
<div class="ab" style="left:513px;top:745px;width:156px;height:1px;background:#1a1a1a"></div>
<div class="ab" style="left:668px;top:731px;width:1px;height:15px;background:#1a1a1a"></div>
<div class="ab" style="left:40px;top:747px;width:153px;height:1px;background:#1a1a1a"></div>
<div class="ab" style="left:40px;top:761px;width:153px;height:1px;background:#1a1a1a"></div>
<div class="ab" style="left:40px;top:747px;width:1px;height:15px;background:#1a1a1a"></div>
<div class="ab" style="left:192px;top:747px;width:1px;height:15px;background:#1a1a1a"></div>
<div class="ab" style="left:194px;top:747px;width:161px;height:1px;background:#1a1a1a"></div>
<div class="ab" style="left:194px;top:761px;width:161px;height:1px;background:#1a1a1a"></div>
<div class="ab" style="left:354px;top:747px;width:1px;height:15px;background:#1a1a1a"></div>
<div class="ab" style="left:356px;top:747px;width:156px;height:1px;background:#1a1a1a"></div>
<div class="ab" style="left:356px;top:761px;width:156px;height:1px;background:#1a1a1a"></div>
<div class="ab" style="left:511px;top:747px;width:1px;height:15px;background:#1a1a1a"></div>
<div class="ab" style="left:513px;top:747px;width:156px;height:1px;background:#1a1a1a"></div>
<div class="ab" style="left:513px;top:761px;width:156px;height:1px;background:#1a1a1a"></div>
<div class="ab" style="left:668px;top:747px;width:1px;height:15px;background:#1a1a1a"></div>
<div class="ab" style="left:40px;top:776px;width:153px;height:1px;background:#1a1a1a"></div>
<div class="ab" style="left:40px;top:762px;width:1px;height:14px;background:#1a1a1a"></div>
<div class="ab" style="left:192px;top:762px;width:1px;height:14px;background:#1a1a1a"></div>
<div class="ab" style="left:194px;top:776px;width:161px;height:1px;background:#1a1a1a"></div>
<div class="ab" style="left:354px;top:762px;width:1px;height:14px;background:#1a1a1a"></div>
<div class="ab" style="left:40px;top:791px;width:153px;height:1px;background:#1a1a1a"></div>
<div class="ab" style="left:40px;top:777px;width:1px;height:14px;background:#1a1a1a"></div>
<div class="ab" style="left:192px;top:777px;width:1px;height:14px;background:#1a1a1a"></div>
<div class="ab" style="left:194px;top:791px;width:161px;height:1px;background:#1a1a1a"></div>
<div class="ab" style="left:354px;top:777px;width:1px;height:14px;background:#1a1a1a"></div>
<div class="ab" style="left:40px;top:806px;width:153px;height:1px;background:#1a1a1a"></div>
<div class="ab" style="left:40px;top:792px;width:1px;height:14px;background:#1a1a1a"></div>
<div class="ab" style="left:192px;top:792px;width:1px;height:14px;background:#1a1a1a"></div>
<div class="ab" style="left:194px;top:806px;width:161px;height:1px;background:#1a1a1a"></div>
<div class="ab" style="left:354px;top:792px;width:1px;height:14px;background:#1a1a1a"></div>
<div class="ab" style="left:356px;top:806px;width:156px;height:1px;background:#1a1a1a"></div>
<div class="ab" style="left:356px;top:791px;width:156px;height:1px;background:#1a1a1a"></div>
<div class="ab" style="left:511px;top:792px;width:1px;height:14px;background:#1a1a1a"></div>
<div class="ab" style="left:40px;top:821px;width:153px;height:1px;background:#1a1a1a"></div>
<div class="ab" style="left:40px;top:807px;width:1px;height:14px;background:#1a1a1a"></div>
<div class="ab" style="left:192px;top:807px;width:1px;height:14px;background:#1a1a1a"></div>
<div class="ab" style="left:194px;top:821px;width:161px;height:1px;background:#1a1a1a"></div>
<div class="ab" style="left:354px;top:807px;width:1px;height:14px;background:#1a1a1a"></div>
<div class="ab" style="left:356px;top:821px;width:156px;height:1px;background:#1a1a1a"></div>
<div class="ab" style="left:511px;top:807px;width:1px;height:14px;background:#1a1a1a"></div>
<div class="ab" style="left:40px;top:836px;width:153px;height:1px;background:#1a1a1a"></div>
<div class="ab" style="left:40px;top:822px;width:1px;height:14px;background:#1a1a1a"></div>
<div class="ab" style="left:192px;top:822px;width:1px;height:14px;background:#1a1a1a"></div>
<div class="ab" style="left:194px;top:836px;width:161px;height:1px;background:#1a1a1a"></div>
<div class="ab" style="left:354px;top:822px;width:1px;height:14px;background:#1a1a1a"></div>
<div class="ab" style="left:356px;top:836px;width:156px;height:1px;background:#1a1a1a"></div>
<div class="ab" style="left:511px;top:822px;width:1px;height:14px;background:#1a1a1a"></div>
<div class="t" style="left:419px;top:806px;font-size:15px;font-weight:bold;line-height:16px;color:#111">20</div>
<div class="ab" style="left:349px;top:785px;width:161px;height:49.5px;border:4px solid #e0222c;border-radius:15px;z-index:40"></div>
<div class="ab" style="left:41.5px;top:856.3px;width:640px;text-align:center;font-size:12px;line-height:17.6px;color:#2a2a2a">Class hours entered will go to the appropriate Record of Pilot Time on the 8710-1. Failure to enter the appropriate<br>hours, if required, will render the applicant not eligible for the certificate/rating sought and will result in a Correction<br>Notice from the Airmen Certification Branch</div>
</body></html>
